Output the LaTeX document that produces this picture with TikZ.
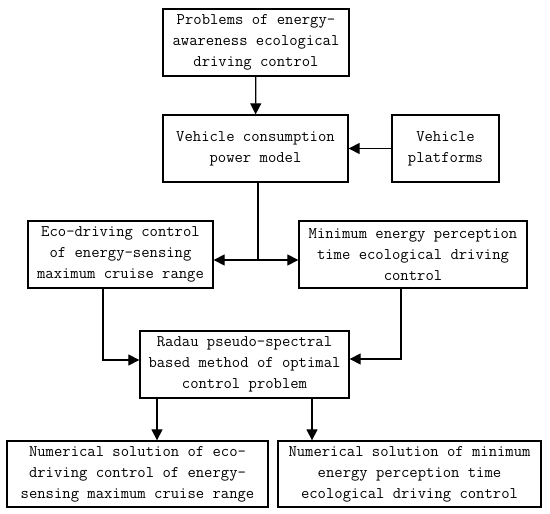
\documentclass[tikz,border=0pt]{standalone}
\usetikzlibrary{arrows.meta}
\tikzset{
    box/.style={draw, line width=1.3pt, align=center, inner sep=0pt,
        font=\fontsize{16.2}{21}\selectfont\ttfamily},
    arr/.style={line width=1.2pt, -{Triangle[length=11pt,width=11pt]}},
    link/.style={line width=1.2pt}
}
\begin{document}
\begin{tikzpicture}[x=1pt,y=1pt]
    \useasboundingbox (0,0) rectangle (550,514);
    % Upper part: problem, model, platforms
    \node[box, minimum width=186, minimum height=67] (prob) at (256,471.5)
        {Problems of energy-\\awareness ecological\\driving control};
    \node[box, minimum width=185, minimum height=67] (model) at (255.5,365.5)
        {Vehicle consumption\\power model};
    \node[box, minimum width=107, minimum height=67] (plat) at (445.5,365.5)
        {Vehicle\\platforms};

    % Two control problems
    \node[box, minimum width=185, minimum height=67] (eco) at (120.5,259.5)
        {Eco-driving control\\of energy-sensing\\maximum cruise range};
    \node[box, minimum width=228, minimum height=67] (minen) at (413,259.5)
        {Minimum energy perception\\time ecological driving\\control};

    % Solution method and results
    \node[box, minimum width=209, minimum height=67] (radau) at (244.5,149.5)
        {Radau pseudo-spectral\\based method of optimal\\control problem};
    \node[box, minimum width=261, minimum height=66] (numl) at (137.5,40)
        {Numerical solution of eco-\\driving control of energy-\\sensing maximum cruise range};
    \node[box, minimum width=263, minimum height=66] (numr) at (409.5,40)
        {Numerical solution of minimum\\energy perception time\\ecological driving control};

    % Connectors
    \draw[arr] (prob) -- (model);
    \draw[arr] (plat) -- (model);
    \coordinate (split) at ([xshift=2.5pt]model.south |- 0,254);
    \draw[link] ([xshift=2.5pt]model.south) -- (split);
    \draw[arr] (split) -- (split -| eco.east);
    \draw[arr] (split) -- (split -| minen.west);
    \draw[arr] ([xshift=-17.5pt]eco.south) |- ([yshift=4.5pt]radau.west);
    \draw[arr] ([xshift=-12pt]minen.south) |- ([yshift=5.5pt]radau.east);
    \draw[arr] ([xshift=-87.5pt]radau.south) coordinate (o1) -- (o1 |- numl.north);
    \draw[arr] ([xshift=67.5pt]radau.south) coordinate (o2) -- (o2 |- numr.north);
\end{tikzpicture}
\end{document}
